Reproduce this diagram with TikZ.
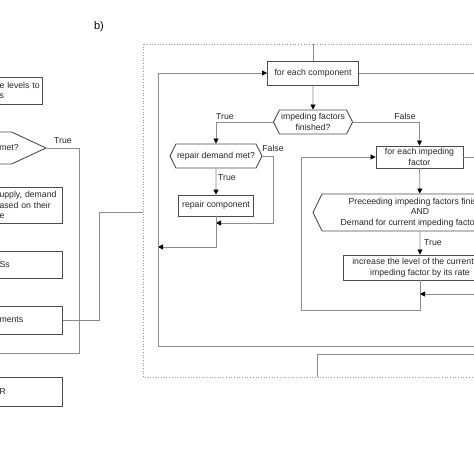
\documentclass[tikz,border=0pt]{standalone}
\usepackage{fontspec}
\setmainfont{Liberation Sans}
\usetikzlibrary{shapes.symbols,arrows.meta,positioning}

\begin{document}
\begin{tikzpicture}[x=1pt,y=-1pt,font=\fontsize{8.7}{10.5}\selectfont]

  \tikzset{main node/.style={rectangle, draw=black!70, line width=0.9pt,
  		align=center, inner sep=2pt, text=black!85}, }
  \tikzset{cut node/.style={main node, anchor=east, align=left}, }
  \tikzset{main test/.style={signal, signal to=west and east,
  		signal pointer angle=127, draw=black!70, line width=0.9pt,
  		align=center, inner sep=1pt, text=black!85}, }
  \tikzset{linea/.style={draw=black!45, line width=0.8pt,
  		-{Triangle[length=5pt,width=5pt,black]}}, }
  \tikzset{linep/.style={draw=black!45, line width=0.8pt}, }
  \tikzset{tag/.style={text=black!85, inner sep=1pt}, }
  \useasboundingbox (0,0) rectangle (474,474);
  \clip (0,0) rectangle (474,474);

  % a) cut at the left border
    \node[cut node, text width=41pt, minimum height=27pt] (a1) at (43,90.5) {e levels to\\s};
    \node[main test, signal pointer angle=50, minimum height=32pt, anchor=east] (a2) at (47,148) {met?\hspace*{-8pt}};
    \node[cut node, text width=61pt, minimum height=36pt] (a3) at (63,205) {upply, demand\\ased on their\\e};
    \node[cut node, text width=61pt, minimum height=27pt] (a4) at (63,264.5) {Ss};
    \node[cut node, text width=61pt, minimum height=28pt] (a5) at (63,320) {ments};
    \node[cut node, text width=61pt, minimum height=29pt] (a6) at (63,391.5) {R};
    \node[tag] (ta) at (63,141) {True};
    \coordinate (a0) at (-5,353);
    \coordinate (fl) at (143,212);

  % b)
    \node[font=\fontsize{11}{13}\selectfont] (lb) at (99,27) {b)};
    \draw[black!40, dotted, line width=0.7pt] (143,44) rectangle (490,377);

    \node[main node, minimum width=91pt, minimum height=24pt] (comp) at (313,73) {for each component};
    \node[main test, minimum width=79pt, minimum height=24pt] (fin) at (313,122) {impeding factors\\finished?};
    \node[main test, minimum width=92pt, minimum height=24pt] (rep) at (216,156) {repair demand met?};
    \node[main node, minimum width=75pt, minimum height=21pt] (rc) at (216,205.5) {repair component};
    \node[main node, minimum width=87pt, minimum height=22pt] (fe) at (419.5,157) {for each impeding\\factor};
    \node[main test, signal pointer angle=128, minimum width=214pt, minimum height=37pt] (cond) at (420,212.5)
      {Preceeding impeding factors finished\\AND\\Demand for current impeding factor met?};
    \node[main node, minimum width=154pt, minimum height=25pt] (inc) at (420,267.5)
      {increase the level of the current\hspace*{14pt}\\impeding factor by its rate};

    \node[tag] (t1) at (225,117) {True};
    \node[tag] (t2) at (273,148) {False};
    \node[tag] (t3) at (227,178) {True};
    \node[tag] (t4) at (405,116) {False};
    \node[tag] (t5) at (433,243) {True};

    \coordinate (top) at (313,44);
    \coordinate (cr) at (490,73);
    \coordinate (ol) at (490,346);
    \coordinate (rf) at (273,223);
    \coordinate (er) at (490,157);
    \coordinate (ir) at (490,294);
    \coordinate (br) at (490,354);
    \coordinate (bt) at (317,377);

\draw[linep] (a2.east) -| (79,353) -- (a0);
\draw[linep] (a5.east) -| (99,212) -- (fl);
\draw[linep] (top) -- (comp);
\draw[linep] (comp.east) -- (cr);
\draw[linea] (comp) -- (fin);
\draw[linea] (fin.west) -| (rep.north);
\draw[linea] (rep) -- (rc);
\draw[linea] (rep.east) -| (rf) -- (rf -| rc.south);
\draw[linea] (rc.south) |- (158,247);
\draw[linea] (ol) -| (158,73) -- (comp.west);
\draw[linea] (fin.east) -| (fe.north);
\draw[linep] (fe.east) -- (er);
\draw[linea] (fe) -- (cond);
\draw[linea] (cond) -- (inc);
\draw[linea] (inc.south) |- (301,310) |- (fe.west);
\draw[linea] (ir) -- (inc.south |- ir);
\draw[linep] (br) -| (bt);
%%
\end{tikzpicture}
\end{document}
